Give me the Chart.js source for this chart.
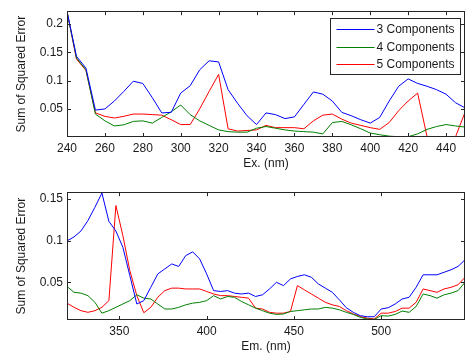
<!DOCTYPE html>
<html>
<head>
<meta charset="utf-8">
<script src="https://cdn.jsdelivr.net/npm/chart.js@4.4.1/dist/chart.umd.min.js"></script>
<style>
  body { margin: 0; background: #fff; }
  canvas { position: absolute; left: 0; }
  #top { top: 0; }
  #bottom { top: 181px; }
</style>
</head>
<body>
<canvas id="top" width="474" height="181"></canvas>
<canvas id="bottom" width="474" height="182"></canvas>
<script>
const seriesLabels = ["3 Components", "4 Components", "5 Components"];
const seriesColors = ["#0000ff", "#008000", "#ff0000"];
const yTitle = "Sum of Squared Error";

// excitation panel
const exNm = [240, 245, 250, 255, 260, 265, 270, 275, 280, 285,
  290, 295, 300, 305, 310, 315, 320, 325, 330, 335,
  340, 345, 350, 355, 360, 365, 370, 375, 380, 385,
  390, 395, 400, 405, 410, 415, 420, 425, 430, 435,
  440, 445, 450];
const ex3 = [0.222, 0.143, 0.122, 0.048, 0.050, 0.064, 0.081, 0.099, 0.095, 0.070,
  0.043, 0.044, 0.078, 0.091, 0.119, 0.135, 0.133, 0.084, 0.060, 0.038,
  0.0225, 0.043, 0.040, 0.033, 0.036, 0.058, 0.080, 0.076, 0.064, 0.044,
  0.038, 0.031, 0.025, 0.035, 0.064, 0.090, 0.103, 0.095, 0.090, 0.084,
  0.076, 0.061, 0.052];
const ex4 = [0.222, 0.140, 0.119, 0.041, 0.029, 0.020, 0.022, 0.028, 0.029, 0.025,
  0.035, 0.045, 0.057, 0.040, 0.029, 0.021, 0.013, 0.010, 0.009, 0.009,
  0.016, 0.019, 0.016, 0.013, 0.011, 0.010, 0.009, 0.006, 0.026, 0.028,
  0.022, 0.015, 0.0075, 0.0045, 0.002, 0.001, 0.001, 0.006, 0.014, 0.019,
  0.0225, 0.020, 0.018];
const ex5 = [0.222, 0.138, 0.118, 0.043, 0.037, 0.034, 0.037, 0.041, 0.041, 0.040,
  0.039, 0.031, 0.0225, 0.0225, 0.050, 0.081, 0.111, 0.015, 0.011, 0.012,
  0.013, 0.021, 0.017, 0.017, 0.017, 0.015, 0.029, 0.039, 0.041, 0.032,
  0.025, 0.021, 0.017, 0.014, 0.026, 0.047, 0.064, 0.078, 0.0008, 0.0008,
  0.0008, 0.0008, 0.044];
const exTicks = [240, 260, 280, 300, 320, 340, 360, 380, 400, 420, 440];
const exErrTicks = [0.05, 0.1, 0.15, 0.2];

// emission panel
const emNm = [320, 324, 328, 332, 336, 340, 344, 348, 352, 356,
  360, 364, 368, 372, 376, 380, 384, 388, 392, 396,
  400, 404, 408, 412, 416, 420, 424, 428, 432, 436,
  440, 444, 448, 452, 456, 460, 464, 468, 472, 476,
  480, 484, 488, 492, 496, 500, 504, 508, 512, 516,
  520, 524, 528, 532, 536, 540, 544, 548];
const em3 = [0.0996, 0.1044, 0.1115, 0.124, 0.140, 0.157, 0.123, 0.1115, 0.092, 0.058,
  0.024, 0.028, 0.044, 0.060, 0.066, 0.072, 0.069, 0.082, 0.0865, 0.078,
  0.060, 0.040, 0.039, 0.040, 0.037, 0.036, 0.037, 0.033, 0.035, 0.042,
  0.050, 0.046, 0.054, 0.057, 0.059, 0.056, 0.048, 0.043, 0.038, 0.029,
  0.0195, 0.014, 0.010, 0.0087, 0.0087, 0.018, 0.0195, 0.024, 0.030, 0.032,
  0.044, 0.059, 0.059, 0.059, 0.062, 0.065, 0.069, 0.077];
const em4 = [0.045, 0.038, 0.037, 0.034, 0.026, 0.013, 0.016, 0.020, 0.024, 0.028,
  0.035, 0.031, 0.030, 0.024, 0.018, 0.018, 0.020, 0.023, 0.025, 0.026,
  0.028, 0.034, 0.030, 0.033, 0.032, 0.027, 0.023, 0.019, 0.016, 0.013,
  0.0115, 0.012, 0.015, 0.016, 0.017, 0.018, 0.018, 0.020, 0.019, 0.017,
  0.014, 0.0115, 0.008, 0.006, 0.0055, 0.010, 0.0095, 0.0115, 0.0155, 0.014,
  0.021, 0.036, 0.034, 0.031, 0.035, 0.037, 0.040, 0.050];
const em5 = [0.025, 0.020, 0.016, 0.014, 0.016, 0.020, 0.028, 0.142, 0.106, 0.064,
  0.034, 0.0135, 0.020, 0.032, 0.040, 0.043, 0.043, 0.042, 0.042, 0.042,
  0.039, 0.036, 0.034, 0.034, 0.033, 0.032, 0.031, 0.019, 0.018, 0.014,
  0.013, 0.013, 0.015, 0.046, 0.041, 0.036, 0.031, 0.026, 0.023, 0.021,
  0.016, 0.012, 0.009, 0.007, 0.006, 0.013, 0.013, 0.015, 0.019, 0.019,
  0.026, 0.042, 0.040, 0.038, 0.042, 0.044, 0.047, 0.056];
const emTicks = [350, 400, 450, 500];
const emErrTicks = [0.05, 0.1, 0.15];

const FONT = { family: "'Liberation Sans', Arial, sans-serif", size: 12 };
const TEXT = "#1a1a1a";

// box with inward ticks on all four sides, plus the rotated y title
const matlabFrame = {
  id: "matlabFrame",
  afterDraw(chart) {
    const { ctx, chartArea: a, scales } = chart;
    const len = 4;
    ctx.save();
    ctx.strokeStyle = "#262626";
    ctx.lineWidth = 1;
    ctx.beginPath();
    scales.x.ticks.forEach((t) => {
      const px = Math.round(scales.x.getPixelForValue(t.value)) + 0.5;
      ctx.moveTo(px, a.bottom); ctx.lineTo(px, a.bottom - len);
      ctx.moveTo(px, a.top); ctx.lineTo(px, a.top + len);
    });
    scales.y.ticks.forEach((t) => {
      const py = Math.round(scales.y.getPixelForValue(t.value)) + 0.5;
      ctx.moveTo(a.left, py); ctx.lineTo(a.left + len, py);
      ctx.moveTo(a.right, py); ctx.lineTo(a.right - len, py);
    });
    ctx.stroke();
    ctx.strokeRect(Math.round(a.left) + 0.5, Math.round(a.top) + 0.5,
      Math.round(a.right - a.left) - 1, Math.round(a.bottom - a.top) - 1);

    ctx.translate(22, (a.top + a.bottom) / 2);
    ctx.rotate(-Math.PI / 2);
    ctx.font = `${FONT.size}px ${FONT.family}`;
    ctx.fillStyle = TEXT;
    ctx.textAlign = "center";
    ctx.textBaseline = "middle";
    ctx.fillText(yTitle, 0, 0);
    ctx.restore();
  },
};

// legend drawn inside the plot, top right, with a frame
const boxLegend = {
  id: "boxLegend",
  afterDraw(chart) {
    const { ctx, chartArea: a } = chart;
    const w = 130, h = 56;
    const x = Math.round(a.right - 5 - w) + 0.5;
    const y = Math.round(a.top + 7) + 0.5;
    ctx.save();
    ctx.fillStyle = "#fff";
    ctx.fillRect(x, y, w, h);
    ctx.strokeStyle = "#262626";
    ctx.lineWidth = 1;
    ctx.strokeRect(x, y, w, h);
    ctx.font = `${FONT.size}px ${FONT.family}`;
    ctx.textBaseline = "middle";
    chart.data.datasets.forEach((ds, i) => {
      const rowY = y + 10.5 + i * 17.7;
      ctx.strokeStyle = ds.borderColor;
      ctx.beginPath();
      ctx.moveTo(x + 6, Math.round(rowY) + 0.5);
      ctx.lineTo(x + 44, Math.round(rowY) + 0.5);
      ctx.stroke();
      ctx.fillStyle = TEXT;
      ctx.fillText(ds.label, x + 46, rowY + 0.5);
    });
    ctx.restore();
  },
};

function makeDatasets(xs, ys) {
  return ys.map((vals, i) => ({
    label: seriesLabels[i],
    data: xs.map((x, j) => ({ x, y: vals[j] })),
    borderColor: seriesColors[i],
    borderWidth: 1,
    pointRadius: 0,
    tension: 0,
  }));
}

function renderPanel(canvasId, cfg) {
  const ctx = document.getElementById(canvasId);
  const plugins = [matlabFrame];
  if (cfg.legend) plugins.push(boxLegend);

  new Chart(ctx, {
    type: "line",
    data: { datasets: makeDatasets(cfg.xs, cfg.ys) },
    plugins,
    options: {
      responsive: false,
      animation: false,
      events: [],
      layout: { padding: { top: cfg.padTop, right: 9, left: 0, bottom: 0 } },
      plugins: { legend: { display: false }, tooltip: { enabled: false } },
      scales: {
        x: {
          type: "linear",
          min: cfg.xMin,
          max: cfg.xMax,
          afterBuildTicks: (s) => { s.ticks = cfg.xTicks.map((v) => ({ value: v })); },
          afterFit: (s) => { s.height = cfg.xAxisHeight; },
          grid: { display: false, drawTicks: false },
          border: { display: false },
          ticks: {
            autoSkip: false,
            maxRotation: 0,
            padding: 4,
            color: TEXT,
            font: FONT,
            callback: (v) => String(v),
          },
          title: {
            display: true,
            text: cfg.xTitle,
            color: TEXT,
            font: FONT,
            padding: { top: 0, bottom: cfg.xTitlePad },
          },
        },
        y: {
          min: cfg.yMin,
          max: cfg.yMax,
          afterBuildTicks: (s) => { s.ticks = cfg.yTicks.map((v) => ({ value: v })); },
          afterFit: (s) => { s.width = 67; },
          grid: { display: false, drawTicks: false },
          border: { display: false },
          ticks: {
            padding: 4,
            color: TEXT,
            font: FONT,
            callback: (v) => String(v),
          },
          title: { display: false },
        },
      },
    },
  });
}

addEventListener("DOMContentLoaded", () => {
  renderPanel("top", {
    xs: exNm,
    ys: [ex3, ex4, ex5],
    xMin: 240, xMax: 450,
    yMin: 0.0005, yMax: 0.2225,
    xTicks: exTicks,
    yTicks: exErrTicks,
    xTitle: "Ex. (nm)",
    padTop: 8,
    xAxisHeight: 44,
    xTitlePad: 10,
    legend: true,
  });

  renderPanel("bottom", {
    xs: emNm,
    ys: [em3, em4, em5],
    xMin: 320, xMax: 548,
    yMin: 0.0048, yMax: 0.158,
    xTicks: emTicks,
    yTicks: emErrTicks,
    xTitle: "Em. (nm)",
    padTop: 10,
    xAxisHeight: 43,
    xTitlePad: 9,
    legend: false,
  });
});
</script>
</body>
</html>
